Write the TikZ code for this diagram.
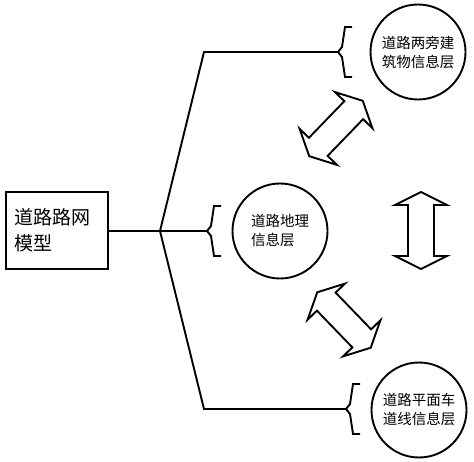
\documentclass[tikz,border=0pt]{standalone}
\usepackage{fontspec}
\setmainfont{Noto Sans CJK SC}
\usetikzlibrary{positioning}
\tikzset{
    layer/.style={circle,draw,line width=1.9pt,minimum size=95pt,inner sep=0pt,
        align=left,font=\fontsize{14.5pt}{19pt}\selectfont},
    brace/.pic={\draw[line width=1.9pt] (14,-25) -- (7,-25) -- (4,-5) -- (0,0)
        -- (4,5) -- (7,25) -- (14,25);},
    dblarrow/.pic={\draw[line width=1.9pt,fill=white] (38.5,0) -- (25.5,26) -- (25.5,13)
        -- (-25.5,13) -- (-25.5,26) -- (-38.5,0) -- (-25.5,-26) -- (-25.5,-13)
        -- (25.5,-13) -- (25.5,-26) -- cycle;}
}
\begin{document}
\begin{tikzpicture}[x=1pt,y=-1pt,line join=miter]
    \useasboundingbox (0,0) rectangle (474,462);

    % model box
    \node[rectangle,draw,line width=1.9pt,text width=86pt,inner xsep=8pt,
        minimum height=77pt,align=left,
        font=\fontsize{19pt}{26pt}\selectfont] (model) at (57,230.5)
        {道路路网\\模型};

    % layers
    \node[layer] (build) at (418,52) {道路两旁建\\筑物信息层};
    \node[layer] (geo) at (280,231) {道路地理\\信息层};
    \node[layer] (lane) at (419,410) {道路平面车\\道线信息层};

    % braces in front of the layers
    \coordinate (buildtip) at (338,52);
    \coordinate (geotip) at (207,231);
    \coordinate (lanetip) at (346,409);
    \pic at (buildtip) {brace};
    \pic at (geotip) {brace};
    \pic at (lanetip) {brace};

    % fan out
    \coordinate (fork) at (160,231);
    \draw[line width=1.9pt] (model.east |- geotip) -- (geotip);
    \draw[line width=1.9pt] (fork) -- (204,52) -- (buildtip);
    \draw[line width=1.9pt] (fork) -- (204,409) -- (lanetip);

    % exchange arrows
    \pic[rotate=46] at (336,128.5) {dblarrow};
    \pic[rotate=90] at (421,230.5) {dblarrow};
    \pic[rotate=-46] at (344,320) {dblarrow};

\end{tikzpicture}
\end{document}
